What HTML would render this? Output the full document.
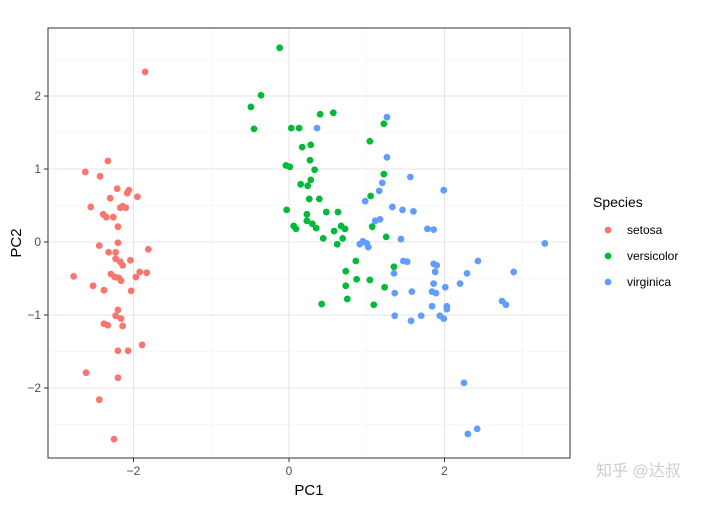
<!DOCTYPE html>
<html><head><meta charset="utf-8"><style>
body{margin:0;background:#fff;width:720px;height:502px;overflow:hidden;font-family:"Liberation Sans",Arial,sans-serif}
</style></head><body>
<svg width="720" height="502" xmlns="http://www.w3.org/2000/svg">
<g id="grid"></g>
<g id="pts"></g>
<rect x="48" y="28" width="522" height="430" fill="none" stroke="#333" stroke-width="1"/>
<g id="axes"></g>
<text x="309" y="495" font-size="15" text-anchor="middle" fill="#000">PC1</text>
<text transform="translate(21,243) rotate(-90)" font-size="15" text-anchor="middle" fill="#000">PC2</text>
<text x="593" y="207" font-size="14" fill="#000">Species</text>
<g id="legend"></g>
<text x="596" y="476" font-size="16" fill="#ccc" font-family="'Liberation Sans','Noto Sans CJK SC',sans-serif">知乎 @达叔</text>
</svg>
<script>
const species=["setosa","versicolor","virginica"];
const colors=["#F8766D","#00BA38","#619CFF"];
const xTicks=[-2,0,2];
const yTicks=[-2,-1,0,1,2];
const setosaX=[-1.85,-2.33,-2.62,-2.43,-2.21,-2.06,-2.08,-1.95,-2.30,-2.55,-2.17,-2.14,-2.10,-2.39,-2.35,-2.26,-2.20,-2.44,-2.20,-1.81,-2.32,-2.23,-2.23,-2.04,-2.17,-2.14,-2.77,-2.29,-2.24,-2.19,-2.16,-1.92,-1.83,-1.97,-2.52,-2.38,-2.03,-2.20,-2.23,-2.16,-2.38,-2.33,-2.14,-1.89,-2.20,-2.07,-2.61,-2.20,-2.44,-2.25];
const setosaY=[2.33,1.11,0.96,0.90,0.73,0.71,0.67,0.62,0.60,0.48,0.47,0.49,0.47,0.38,0.34,0.34,0.21,-0.05,-0.01,-0.10,-0.14,-0.14,-0.23,-0.25,-0.27,-0.32,-0.47,-0.44,-0.48,-0.49,-0.53,-0.41,-0.42,-0.48,-0.60,-0.66,-0.67,-0.93,-1.01,-1.05,-1.12,-1.14,-1.15,-1.41,-1.49,-1.49,-1.79,-1.86,-2.16,-2.70];
const versiX=[-0.12,-0.36,-0.49,-0.45,0.03,0.13,0.40,0.57,1.22,1.04,0.17,0.28,0.27,-0.04,0.01,0.33,1.22,0.28,0.15,0.24,1.05,0.26,0.39,-0.03,0.23,0.48,0.63,0.23,0.06,0.09,0.35,0.67,0.72,0.58,1.07,0.44,0.69,0.62,1.25,0.86,0.73,1.35,0.87,1.04,0.73,1.23,0.75,0.42,1.09,0.30];
const versiY=[2.66,2.01,1.85,1.55,1.56,1.56,1.75,1.77,1.62,1.38,1.30,1.33,1.12,1.05,1.03,0.99,0.93,0.85,0.79,0.77,0.63,0.59,0.59,0.44,0.38,0.41,0.41,0.29,0.22,0.18,0.19,0.22,0.18,0.15,0.21,0.05,0.05,-0.03,0.07,-0.26,-0.40,-0.34,-0.51,-0.52,-0.60,-0.62,-0.78,-0.85,-0.86,0.25];
const virgX=[1.26,0.36,1.26,1.56,1.99,1.20,1.16,0.98,1.33,1.46,1.60,1.11,1.17,1.78,1.86,1.44,3.29,0.91,0.95,1.02,1.47,1.52,1.86,2.43,1.88,1.35,2.29,2.89,1.86,2.01,2.20,1.36,1.58,1.84,1.89,1.84,2.03,2.03,2.74,2.79,1.36,1.57,1.70,1.94,1.99,2.25,2.30,2.42,1.00,1.90];
const virgY=[1.71,1.56,1.16,0.89,0.71,0.81,0.70,0.56,0.48,0.44,0.42,0.29,0.31,0.18,0.17,0.04,-0.02,-0.03,0.01,-0.07,-0.26,-0.27,-0.30,-0.26,-0.41,-0.43,-0.43,-0.41,-0.57,-0.62,-0.57,-0.70,-0.68,-0.68,-0.70,-0.88,-0.88,-0.92,-0.81,-0.86,-1.01,-1.08,-1.01,-1.01,-1.05,-1.93,-2.63,-2.56,-0.02,-0.32];
const NS="http://www.w3.org/2000/svg";
const L=48,R=570,T=28,B=458;
function sx(v){return 289+v*77.75;}
function sy(v){return 242-v*73;}
function mk(tag,attrs,parent){const e=document.createElementNS(NS,tag);for(const k in attrs)e.setAttribute(k,attrs[k]);parent.appendChild(e);return e;}
const grid=document.getElementById('grid');
mk('rect',{x:L,y:T,width:R-L,height:B-T,fill:'#fff'},grid);
for(let v=-3;v<=3.01;v+=0.5){const y=sy(v);if(y<T||y>B)continue;const major=Math.abs(v-Math.round(v))<0.01;
 const ln=mk('line',{x1:L,x2:R,y1:y,y2:y,stroke:major?'#e5e5e5':'#f2f2f2','stroke-width':major?1.1:0.6},grid);
 
 }
for(let v=-3;v<=4;v+=1){const x=sx(v);if(x<L||x>R)continue;const major=(v%2===0);
 const ln=mk('line',{x1:x,x2:x,y1:T,y2:B,stroke:major?'#e5e5e5':'#f2f2f2','stroke-width':major?1.1:0.6},grid);
 
 }
const pts=document.getElementById('pts');
const sets=[[setosaX,setosaY],[versiX,versiY],[virgX,virgY]];
sets.forEach((s,i)=>{s[0].forEach((xv,j)=>{
 const c=mk('circle',{cx:sx(xv),cy:sy(s[1][j]),r:3.4,fill:colors[i]},pts);
 
 });});
const ax=document.getElementById('axes');
xTicks.forEach(v=>{const x=sx(v);
 mk('line',{x1:x,x2:x,y1:B,y2:B+4,stroke:'#333'},ax);
 const t=mk('text',{x:x,y:B+17,'font-size':12,'text-anchor':'middle',fill:'#4d4d4d'},ax);t.textContent=v<0?'\u2212'+(-v):v;
 
 });
yTicks.forEach(v=>{const y=sy(v);
 mk('line',{x1:L-4,x2:L,y1:y,y2:y,stroke:'#333'},ax);
 const t=mk('text',{x:L-7,y:y+4,'font-size':12,'text-anchor':'end',fill:'#4d4d4d'},ax);t.textContent=v<0?'\u2212'+(-v):v;
 
 });
const lg=document.getElementById('legend');
species.forEach((s,i)=>{const y=230+i*26;
 const c=mk('circle',{cx:608,cy:y,r:3.4,fill:colors[i]},lg);
 
 
 const t=mk('text',{x:627,y:y+4,'font-size':12,fill:'#000'},lg);t.textContent=s;
 
 });
</script>
</body></html>
